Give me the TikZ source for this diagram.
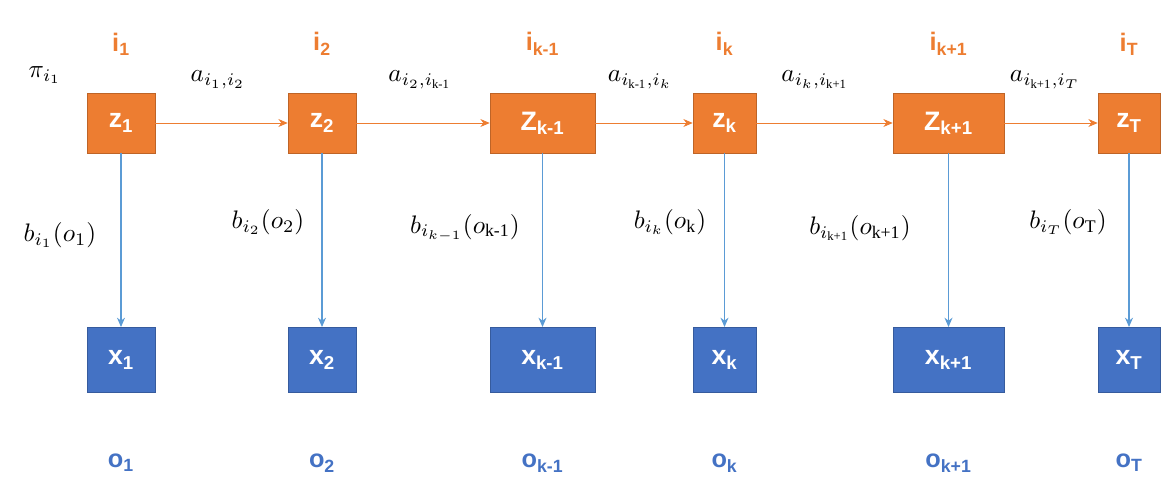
\documentclass[tikz,border=0pt]{standalone}
\usepackage{fontspec}
\setmainfont{Liberation Sans}
\newfontfamily\srf{Liberation Serif}
\newcommand{\rs}[1]{\mbox{\srf\scriptsize #1}}
\newcommand{\rss}[1]{\mbox{\srf\tiny #1}}
\usetikzlibrary{arrows.meta}
\definecolor{org}{HTML}{ED7D31}
\definecolor{blu}{HTML}{4472C4}
\definecolor{lblu}{HTML}{5B9BD5}
\begin{document}
\begin{tikzpicture}[x=0.75pt,y=-0.75pt,
  zb/.style={fill=org,draw=org!80!black,line width=0.5pt,inner sep=0,text=white,font=\fontsize{20}{20}\selectfont\bfseries},
  xb/.style={fill=blu,draw=blu!80!black,line width=0.5pt,inner sep=0,text=white,font=\fontsize{20}{20}\selectfont\bfseries},
  tl/.style={text=org,font=\fontsize{19}{19}\selectfont\bfseries},
  bl/.style={text=blu,font=\fontsize{19}{19}\selectfont\bfseries},
  ml/.style={scale=1.9,transform shape},
  ha/.style={draw=org,line width=0.6pt,-{Stealth[length=7pt,width=6pt]}},
  va/.style={draw=lblu,line width=0.8pt,-{Stealth[length=7pt,width=6pt]}}]
\useasboundingbox (0,0) rectangle (1167,499);
\foreach \n/\l/\r/\s/\Z in {1/87/155/1/z,2/288/356/2/z,3/490/595/k-1/Z,4/693/756/k/z,5/893/1004/k+1/Z,6/1098/1160/T/z}{
  \node[zb,minimum width={(\r-\l)*0.75pt},minimum height=45pt] (z\n) at ({(\l+\r)/2},123) {\Z\textsubscript{\s}};
  \node[xb,minimum width={(\r-\l)*0.75pt},minimum height=49pt] (x\n) at ({(\l+\r)/2},360) {x\textsubscript{\s}};
  \node[tl] (i\n) at ({(\l+\r)/2},44) {i\textsubscript{\s}};
  \node[bl] (o\n) at ({(\l+\r)/2},463) {o\textsubscript{\s}};
  \draw[va] (z\n) -- (x\n);
}
\foreach \a/\b in {1/2,2/3,3/4,4/5,5/6}{\draw[ha] (z\a) -- (z\b);}
\node[ml] (pi) at (45,75) {$\pi_{i_1}$};
\node[ml] (a1) at (218,80) {$a_{i_1,i_2}$};
\node[ml] (a2) at (420,80) {$a_{i_2,i_{\rss{k-1}}}$};
\node[ml] (a3) at (640,80) {$a_{i_{\rss{k-1}},i_k}$};
\node[ml] (a4) at (815,80) {$a_{i_k,i_{\rss{k+1}}}$};
\node[ml] (a5) at (1045,80) {$a_{i_{\rss{k+1}},i_T}$};
\node[ml] (b1) at (60,235) {$b_{i_1}(o_1)$};
\node[ml] (b2) at (268,222) {$b_{i_2}(o_2)$};
\node[ml] (b3) at (465,228) {$b_{i_{k-1}}(o_{\rs{k-1}})$};
\node[ml] (b4) at (670,222) {$b_{i_k}(o_{\rs{k}})$};
\node[ml] (b5) at (860,228) {$b_{i_{\rss{k+1}}}(o_{\rs{k+1}})$};
\node[ml] (b6) at (1068,222) {$b_{i_T}(o_{\rs{T}})$};
\end{tikzpicture}
\end{document}
